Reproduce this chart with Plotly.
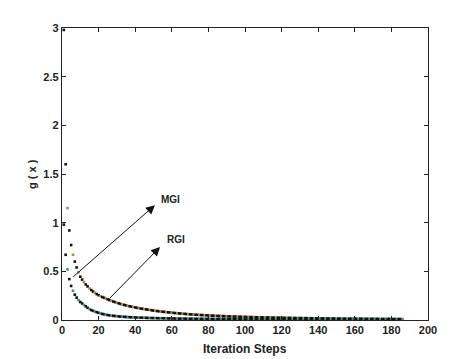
import plotly.graph_objects as go

# Iteration steps
steps = list(range(1, 187))

# Upper curve (RGI)
rgi_values = [
    2.98, 1.60, 1.15, 0.92, 0.77, 0.67, 0.60, 0.54, 0.49, 0.445,
    0.415, 0.39, 0.365, 0.345, 0.325, 0.308, 0.293, 0.279, 0.266, 0.255,
    0.245, 0.236, 0.228, 0.22, 0.212, 0.204, 0.197, 0.19, 0.183, 0.177,
    0.171, 0.165, 0.16, 0.155, 0.15, 0.145, 0.141, 0.137, 0.133, 0.129,
    0.125, 0.122, 0.118, 0.115, 0.112, 0.109, 0.106, 0.103, 0.1, 0.097,
    0.095, 0.092, 0.09, 0.087, 0.085, 0.083, 0.081, 0.079, 0.077, 0.075,
    0.073, 0.071, 0.069, 0.068, 0.066, 0.064, 0.063, 0.061, 0.06, 0.058,
    0.057, 0.056, 0.054, 0.053, 0.052, 0.051, 0.05, 0.049, 0.048, 0.047,
    0.046, 0.045, 0.044, 0.043, 0.042, 0.041, 0.041, 0.04, 0.039, 0.038,
    0.037, 0.037, 0.036, 0.035, 0.035, 0.034, 0.033, 0.033, 0.032, 0.032,
    0.031, 0.031, 0.03, 0.03, 0.029, 0.029, 0.028, 0.028, 0.027, 0.027,
    0.026, 0.026, 0.026, 0.025, 0.025, 0.024, 0.024, 0.024, 0.023, 0.023,
    0.023, 0.022, 0.022, 0.022, 0.021, 0.021, 0.021, 0.02, 0.02, 0.02,
    0.02, 0.019, 0.019, 0.019, 0.019, 0.018, 0.018, 0.018, 0.018, 0.017,
    0.017, 0.017, 0.017, 0.016, 0.016, 0.016, 0.016, 0.016, 0.015, 0.015,
    0.015, 0.015, 0.015, 0.014, 0.014, 0.014, 0.014, 0.014, 0.014, 0.013,
    0.013, 0.013, 0.013, 0.013, 0.013, 0.012, 0.012, 0.012, 0.012, 0.012,
    0.012, 0.012, 0.011, 0.011, 0.011, 0.011, 0.011, 0.011, 0.011, 0.011,
    0.010, 0.010, 0.010, 0.010, 0.010, 0.010,
]

# Lower curve (MGI)
mgi_values = [
    0.98, 0.67, 0.52, 0.42, 0.35, 0.30, 0.26, 0.23, 0.205, 0.185,
    0.17, 0.155, 0.14, 0.125, 0.112, 0.102, 0.094, 0.086, 0.08, 0.074,
    0.068, 0.063, 0.058, 0.054, 0.051, 0.048, 0.045, 0.043, 0.041, 0.039,
    0.037, 0.035, 0.034, 0.033, 0.031, 0.03, 0.029, 0.028, 0.027, 0.026,
    0.025, 0.025, 0.024, 0.023, 0.023, 0.022, 0.021, 0.021, 0.02, 0.02,
    0.019, 0.019, 0.018, 0.018, 0.018, 0.017, 0.017, 0.016, 0.016, 0.016,
    0.015, 0.015, 0.015, 0.014, 0.014, 0.014, 0.014, 0.013, 0.013, 0.013,
    0.013, 0.012, 0.012, 0.012, 0.012, 0.012, 0.011, 0.011, 0.011, 0.011,
    0.011, 0.011, 0.010, 0.010, 0.010, 0.010, 0.010, 0.010, 0.009, 0.009,
    0.009, 0.009, 0.009, 0.009, 0.009, 0.009, 0.008, 0.008, 0.008, 0.008,
    0.008, 0.008, 0.008, 0.008, 0.008, 0.007, 0.007, 0.007, 0.007, 0.007,
    0.007, 0.007, 0.007, 0.007, 0.007, 0.007, 0.007, 0.007, 0.007, 0.007,
    0.007, 0.006, 0.006, 0.006, 0.006, 0.006, 0.006, 0.006, 0.006, 0.006,
    0.006, 0.006, 0.006, 0.006, 0.006, 0.006, 0.006, 0.006, 0.006, 0.006,
    0.006, 0.006, 0.006, 0.006, 0.005, 0.005, 0.005, 0.005, 0.005, 0.005,
    0.005, 0.005, 0.005, 0.005, 0.005, 0.005, 0.005, 0.005, 0.005, 0.005,
    0.005, 0.005, 0.005, 0.005, 0.005, 0.005, 0.005, 0.005, 0.005, 0.005,
    0.005, 0.005, 0.004, 0.004, 0.004, 0.004, 0.004, 0.004, 0.004, 0.004,
    0.004, 0.004, 0.004, 0.004, 0.004, 0.004,
]

x_ticks = [0, 20, 40, 60, 80, 100, 120, 140, 160, 180, 200]
y_ticks = [0, 0.5, 1, 1.5, 2, 2.5, 3]
y_tick_labels = ["0", "0.5", "1", "1.5", "2", "2.5", "3"]

upper_cycle = ["#111111", "#111111", "#b8864a"]
lower_cycle = ["#111111", "#111111", "#3f8f8a"]

fig = go.Figure()
fig.add_trace(go.Scatter(
    x=steps, y=rgi_values, mode="markers", name="RGI",
    marker=dict(symbol="square", size=2.6,
                color=[upper_cycle[i % 3] for i in range(len(steps))]),
))
fig.add_trace(go.Scatter(
    x=steps, y=mgi_values, mode="markers", name="MGI",
    marker=dict(symbol="square", size=2.6,
                color=[lower_cycle[i % 3] for i in range(len(steps))]),
))

font_family = "Liberation Sans, Arial, sans-serif"

# Arrows and labels
fig.add_annotation(x=50.8, y=1.18, ax=5.3, ay=0.43, xref="x", yref="y",
                   axref="x", ayref="y", showarrow=True, arrowhead=2,
                   arrowsize=1.8, arrowwidth=1, arrowcolor="#111111", text="")
fig.add_annotation(x=53.6, y=0.75, ax=25.1, ay=0.205, xref="x", yref="y",
                   axref="x", ayref="y", showarrow=True, arrowhead=2,
                   arrowsize=1.8, arrowwidth=1, arrowcolor="#111111", text="")
fig.add_annotation(x=59.2, y=1.24, xref="x", yref="y", showarrow=False,
                   text="<b>MGI</b>", font=dict(family=font_family, size=10, color="#222222"))
fig.add_annotation(x=62.3, y=0.83, xref="x", yref="y", showarrow=False,
                   text="<b>RGI</b>", font=dict(family=font_family, size=10, color="#222222"))

# Axis titles
fig.add_annotation(x=0.5, y=0, xref="paper", yref="paper", showarrow=False,
                   yanchor="top", xanchor="center", yshift=-20,
                   text="<b>Iteration Steps</b>",
                   font=dict(family=font_family, size=12, color="#222222"))
fig.add_annotation(x=0, y=0.5, xref="paper", yref="paper", showarrow=False,
                   yanchor="middle", xanchor="center", xshift=-30, textangle=-90,
                   text="<b>g ( x )</b>",
                   font=dict(family=font_family, size=11, color="#222222"))

axis_common = dict(
    showline=True, linecolor="#222222", linewidth=1.3, mirror="allticks",
    ticks="inside", ticklen=4, tickwidth=1, tickcolor="#222222",
    showgrid=False, zeroline=False, automargin=False,
    tickfont=dict(family=font_family, size=11, color="#222222", weight="bold"),
)

fig.update_layout(
    width=466, height=351,
    margin=dict(l=54, r=46, t=20, b=39),
    paper_bgcolor="white", plot_bgcolor="white",
    showlegend=False,
    xaxis=dict(range=[0, 200], tickvals=x_ticks, **axis_common),
    yaxis=dict(range=[0, 3], tickvals=y_ticks, ticktext=y_tick_labels, **axis_common),
)

fig.write_html("out.html")
